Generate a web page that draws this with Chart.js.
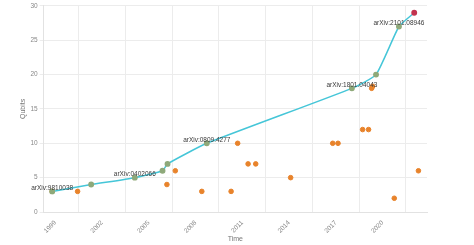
<!DOCTYPE html>
<html>
<head>
<meta charset="utf-8">
<script src="https://cdn.jsdelivr.net/npm/chart.js@4"></script>
<style>
html,body{margin:0;padding:0;background:#fff;}
#wrap{width:474px;height:245px;}
</style>
</head>
<body>
<div id="wrap"><canvas id="c" width="474" height="245"></canvas></div>
<script>
// Record progression (line series)
const recordYears = [1998.8, 2001.3, 2004.1, 2005.88, 2006.2, 2008.72, 2018.03, 2019.58, 2021.05, 2022.03];
const recordQubits = [3, 4, 5, 6, 7, 10, 18, 20, 27, 29];
const recordLabels = ['arXiv:9810038', '', 'arXiv:0402066', '', '', 'arXiv:0809.4277', 'arXiv:1801.04043', '', 'arXiv:2101.08946', ''];

// Other experiments (scatter series)
const otherYears = [1998.8, 2000.43, 2006.16, 2006.7, 2008.4, 2010.28, 2010.7, 2011.37, 2011.86, 2014.1, 2016.8, 2017.14, 2018.72, 2019.1, 2019.3, 2019.36, 2020.75, 2022.3];
const otherQubits = [3, 3, 4, 6, 3, 3, 10, 7, 7, 5, 10, 10, 12, 12, 18, 18.3, 2, 6];

// Axis ticks
const xTickYears = [1999, 2002, 2005, 2008, 2011, 2014, 2017, 2020];
const xTickLabels = ['1999', '2002', '2005', '2008', '2011', '2014', '2017', '2020'];

const FONT = 'Arial, "Liberation Sans", Helvetica, sans-serif';

const recordPts = recordYears.map((x, i) => ({x, y: recordQubits[i]}));
const otherPts = otherYears.map((x, i) => ({x, y: otherQubits[i]}));

const pointColors = recordYears.map((_, i) => i === recordYears.length - 1 ? '#c2344f' : '#8fa97a');

const labelPlugin = {
  id: 'pointLabels',
  afterDatasetsDraw(chart) {
    const meta = chart.getDatasetMeta(1);
    const ctx = chart.ctx;
    ctx.save();
    ctx.font = '6.5px ' + FONT;
    ctx.fillStyle = '#3a3a3a';
    ctx.textAlign = 'center';
    ctx.textBaseline = 'middle';
    meta.data.forEach((el, i) => {
      const t = recordLabels[i];
      if (t) ctx.fillText(t, el.x, el.y - 3.5);
    });
    ctx.restore();
  }
};

new Chart(document.getElementById('c'), {
  type: 'scatter',
  data: {
    datasets: [
      {
        label: 'Other',
        data: otherPts,
        backgroundColor: '#e8832b',
        borderColor: '#e8832b',
        pointRadius: 2.3,
        showLine: false,
        order: 2
      },
      {
        label: 'Record',
        data: recordPts,
        showLine: true,
        borderColor: '#45c6d8',
        borderWidth: 1.5,
        tension: 0.15,
        pointRadius: 2.2,
        pointBackgroundColor: pointColors,
        pointBorderColor: pointColors,
        order: 1
      }
    ]
  },
  options: {
    responsive: false,
    animation: false,
    layout: {padding: {left: 19, right: 47, top: 5, bottom: 0}},
    plugins: {legend: {display: false}, tooltip: {enabled: false}},
    scales: {
      x: {
        type: 'linear',
        min: 1998.25,
        max: 2022.85,
        afterBuildTicks: (axis) => { axis.ticks = xTickYears.map(v => ({value: v})); },
        afterFit: (axis) => { axis.height = 33; },
        ticks: {
          callback: (v) => { const i = xTickYears.indexOf(v); return i >= 0 ? xTickLabels[i] : ''; },
          maxRotation: 45, minRotation: 45,
          color: '#888', font: {size: 6.5, family: FONT}, padding: 7
        },
        grid: {offset: true, color: '#ececec', drawTicks: false},
        border: {color: '#e2e2e2'},
        title: {display: true, text: 'Time', color: '#777', font: {size: 7, family: FONT}, padding: {top: 1, bottom: 2}}
      },
      y: {
        min: 0, max: 30,
        ticks: {stepSize: 5, color: '#888', font: {size: 6.5, family: FONT}, padding: 2},
        grid: {color: '#ececec', tickLength: 4},
        border: {color: '#e2e2e2'},
        title: {display: true, text: 'Qubits', color: '#777', font: {size: 7, family: FONT}, padding: {top: 0, bottom: 1}}
      }
    }
  },
  plugins: [labelPlugin]
});
</script>
</body>
</html>
